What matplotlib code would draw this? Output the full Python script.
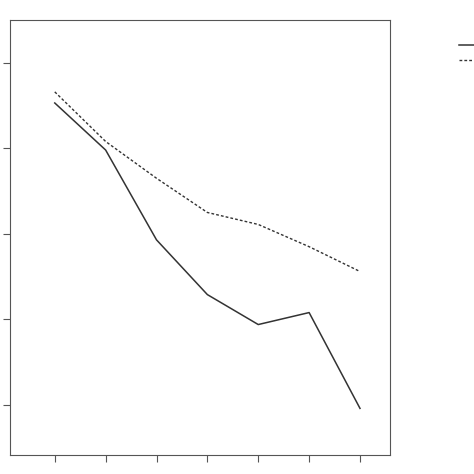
import matplotlib.pyplot as plt

x = [1, 2, 3, 4, 5, 6, 7]
solid = [4.53, 3.98, 2.93, 2.29, 1.94, 2.08, 0.96]
dashed = [4.66, 4.08, 3.65, 3.25, 3.11, 2.85, 2.56]
labels = ['Group 1', 'Group 2']

fig = plt.figure(figsize=(4.74, 4.74), dpi=100)
ax = fig.add_axes([10 / 474, 19 / 474, 380 / 474, 435 / 474])
ax.plot(x, solid, color='#333333', lw=1.1, label=labels[0])
ax.plot(x, dashed, color='#333333', lw=1.0, ls=(0, (2, 1.5)), label=labels[1])
ax.set_xlim(0.12, 7.59)
ax.set_ylim(0.415, 5.5)
ax.set_xticks(x)
ax.set_yticks([1, 2, 3, 4, 5])
ax.tick_params(direction='out', length=5, color='#555555', labelleft=False, labelbottom=False)
for s in ax.spines.values():
    s.set_color('#555555')

# legend labels run off the right edge, as in the source figure
fig.legend(loc='upper left', bbox_to_anchor=(448 / 474, 1 - 28 / 474), frameon=False,
           handlelength=1.6, fontsize=9, labelspacing=0.15)
fig.savefig('out.png', dpi=100)
